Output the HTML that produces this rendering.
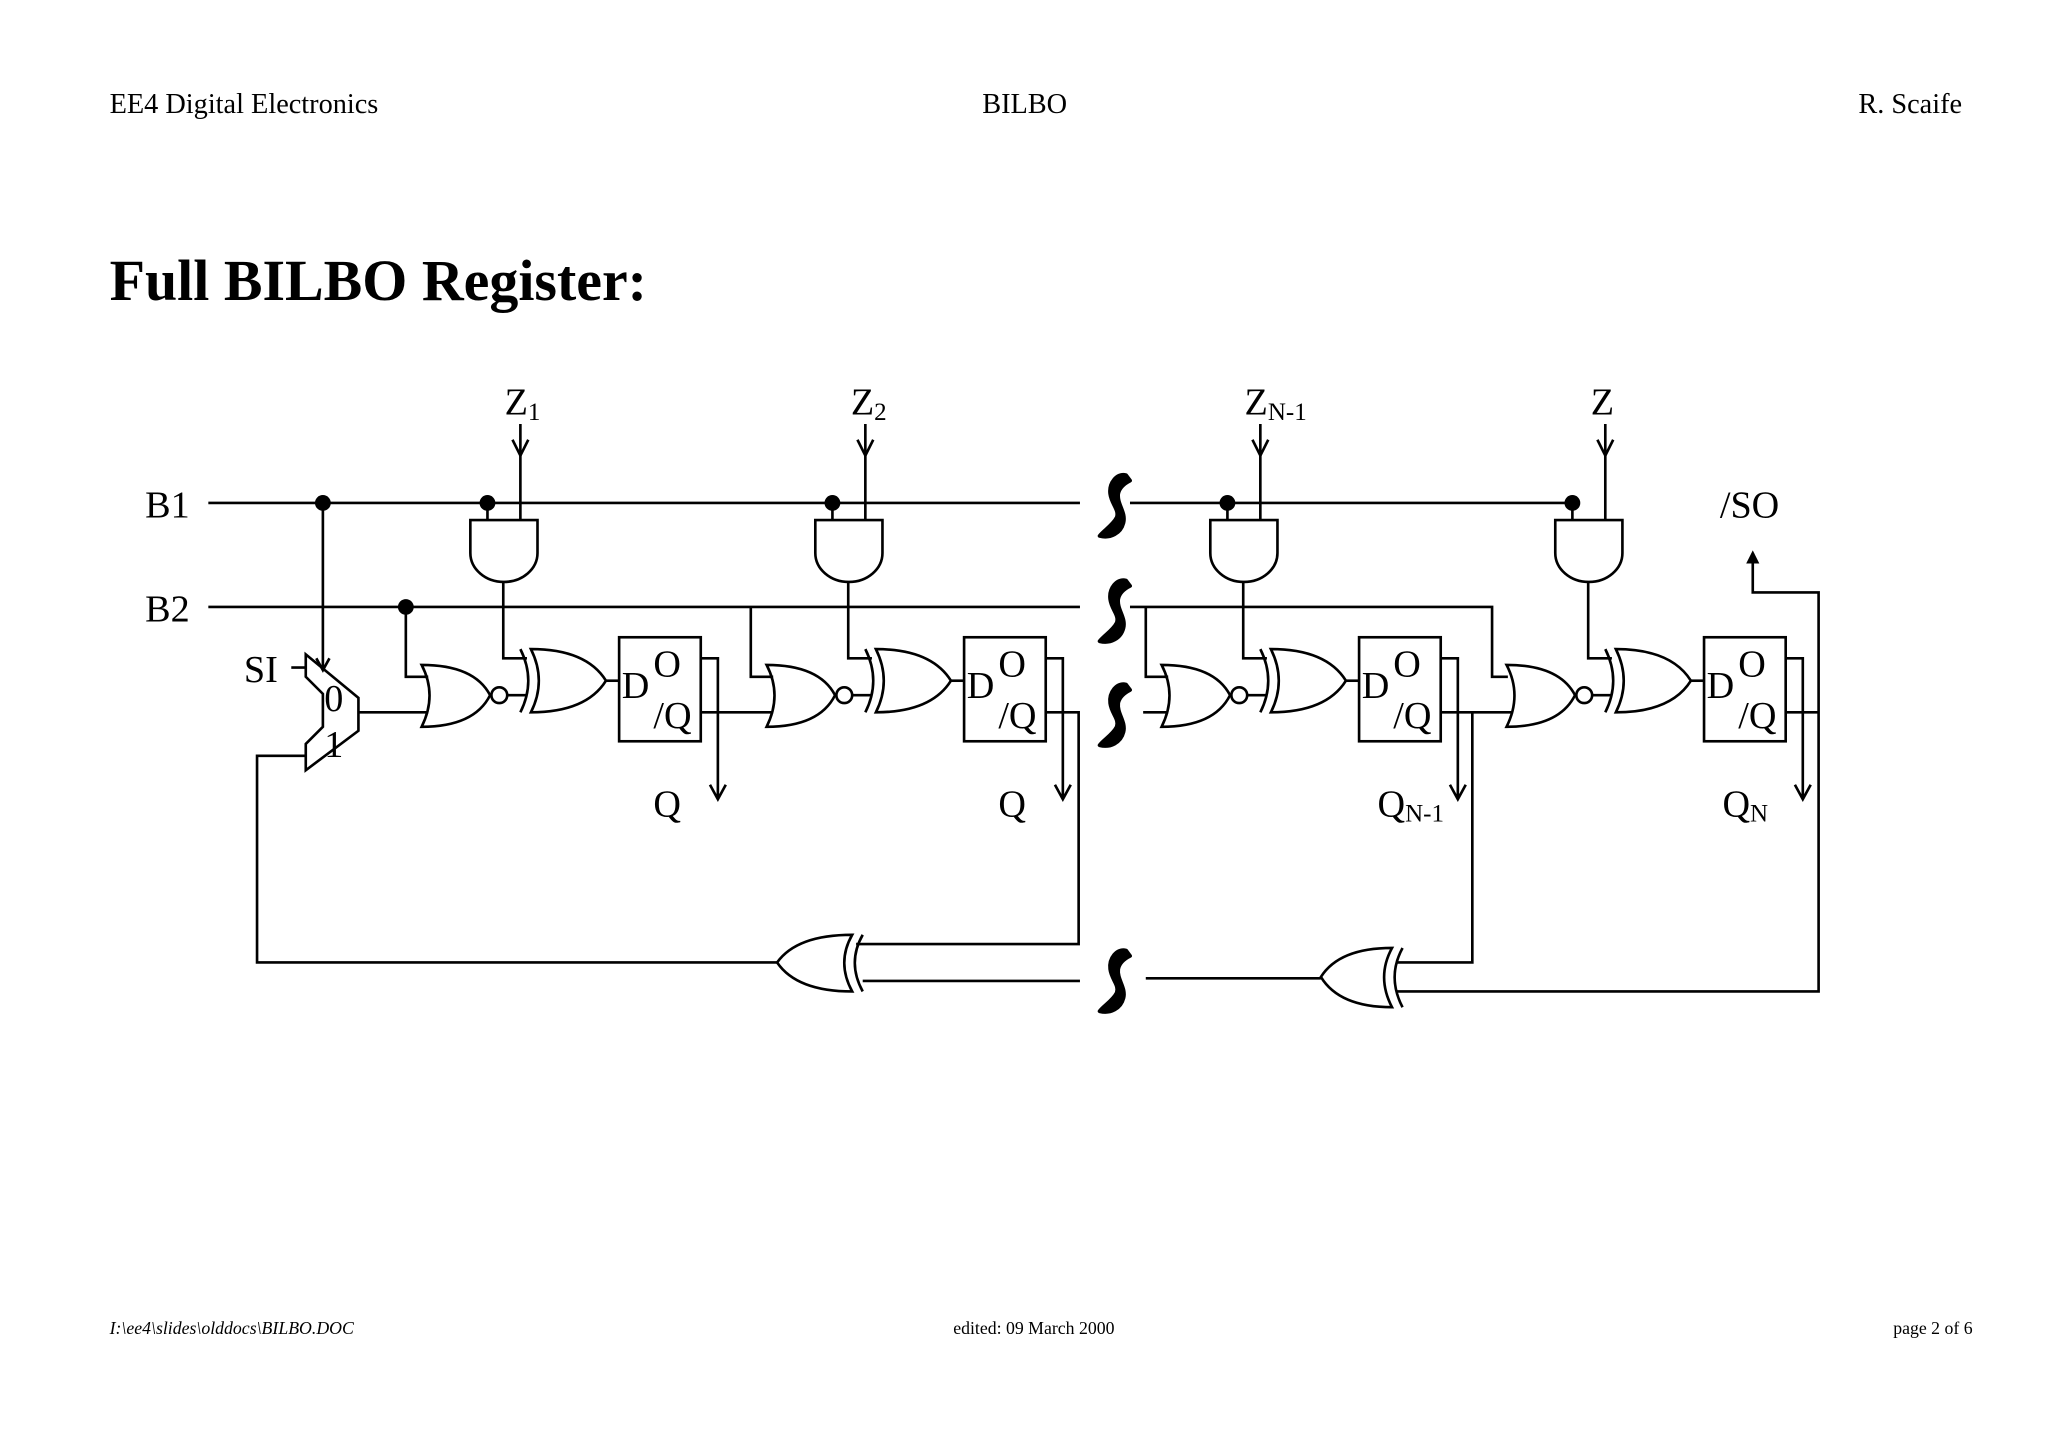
<!DOCTYPE html>
<html><head><meta charset="utf-8"><style>
html,body{margin:0;padding:0;background:#fff;}
svg{display:block;}
text{font-family:"Liberation Serif",serif;fill:#000;}
</style></head><body>
<svg width="2048" height="1447" viewBox="0 0 1555 1099" xmlns="http://www.w3.org/2000/svg">
<defs>
<g id="brk"><path d="M17 -22 C10 -24 4 -16 5 -8 C6 0 12 4 10 10 C7 16 0 20 -3 24 C5 26 13 22 15 14 C17 6 10 0 11 -8 C12 -13 16 -16 20 -18 Z" fill="#000" stroke="#000" stroke-width="3" stroke-linejoin="round"/></g>
</defs>
<text x="83" y="86" font-size="21.5">EE4 Digital Electronics</text>
<text x="778" y="86" font-size="21.5" text-anchor="middle">BILBO</text>
<text x="1490" y="86" font-size="21.5" text-anchor="end">R. Scaife</text>
<text x="83" y="228" font-size="44" font-weight="bold">Full BILBO Register:</text>
<text x="83" y="1013" font-size="13.5" font-style="italic">I:\ee4\slides\olddocs\BILBO.DOC</text>
<text x="785" y="1013" font-size="13.5" text-anchor="middle">edited: 09 March 2000</text>
<text x="1498" y="1013" font-size="13.5" text-anchor="end">page 2 of  6</text>

<g stroke="#000" stroke-width="2" fill="none">
<path d="M158 382 H820 M858 382 H1194"/>
<path d="M158 461 H820 M858 461 H1133 V514 H1145"/>
<path d="M395 322 V395 M657 322 V395 M957 322 V395 M1219 322 V395"/>
<path d="M389 334 L395 346 L401 334 M651 334 L657 346 L663 334 M951 334 L957 346 L963 334 M1213 334 L1219 346 L1225 334"/>
<path d="M370 382 V395 M632 382 V395 M932 382 V395 M1194 382 V395"/>
<path d="M357 395 H408 V420 A25.5 22 0 0 1 357 420 Z"/>
<path d="M619 395 H670 V420 A25.5 22 0 0 1 619 420 Z"/>
<path d="M919 395 H970 V420 A25.5 22 0 0 1 919 420 Z"/>
<path d="M1181 395 H1232 V420 A25.5 22 0 0 1 1181 420 Z"/>
<path d="M382 442 V500 H400 M644 442 V500 H662 M944 442 V500 H962 M1206 442 V500 H1224"/>
<path d="M245 382 V509 M240 500 L245 509 L250 500"/>
<path d="M308 461 V514 H325 M570 461 V514 H587 M870 461 V514 H887"/>
<path d="M232 497 L272 530 V555 L232 585 V565 L245 552 V527 L232 514 Z"/>
<path d="M221 507 H232"/>
<path d="M272 541 H325"/>
<path d="M232 574 H195 V731 H590"/>
<g id="st1">
<path d="M320 505 Q332 528 320 552 Q360 552 372 528 Q360 505 320 505 Z"/>
<circle cx="379" cy="528" r="6"/>
<path d="M385 528 H400"/>
<path d="M395 493 Q407 517 395 541"/>
<path d="M403 493 Q415 517 403 541 Q445 541 460 517 Q445 493 403 493 Z"/>
<path d="M460 517 H470"/>
<rect x="470" y="484" width="62" height="79"/>
<path d="M532 500 H545 V607 M539 596 L545 607 L551 596"/>
</g>
<use href="#st1" x="262"/>
<use href="#st1" x="562"/>
<use href="#st1" x="824"/>
<path d="M532 541 H587 M794 541 H819 V717 H650"/>
<path d="M868 541 H887"/>
<path d="M1094 541 H1149 M1118 541 V731 H1060"/>
<path d="M1356 541 H1381 V753 H1060 M1381 541 V450 H1331 V420"/>
<path d="M655 710 Q643 731 655 753 M647 710 Q635 731 647 753 Q605 753 590 731 Q605 710 647 710 Z"/>
<path d="M655 745 H820 M870 743 H1003"/>
<path d="M1065 720 Q1053 742 1065 765 M1057 720 Q1045 742 1057 765 Q1017 765 1003 742 Q1017 720 1057 720 Z"/>
</g>
<path d="M1326 428 L1331 418 L1336 428 Z" fill="#000"/>
<g fill="#000">
<circle cx="245" cy="382" r="6"/><circle cx="370" cy="382" r="6"/><circle cx="632" cy="382" r="6"/>
<circle cx="932" cy="382" r="6"/><circle cx="1194" cy="382" r="6"/><circle cx="308" cy="461" r="6"/>
</g>
<use href="#brk" x="838" y="383"/>
<use href="#brk" x="838" y="463"/>
<use href="#brk" x="838" y="542"/>
<use href="#brk" x="838" y="744"/>
<g font-size="29">
<text x="110" y="393">B1</text>
<text x="110" y="472">B2</text>
<text x="185" y="518">SI</text>
<text x="1306" y="393">/SO</text>
<text x="383" y="315">Z<tspan font-size="19" dy="4">1</tspan></text>
<text x="646" y="315">Z<tspan font-size="19" dy="4">2</tspan></text>
<text x="945" y="315">Z<tspan font-size="19" dy="4">N-1</tspan></text>
<text x="1208" y="315">Z</text>
<text x="496" y="620">Q</text>
<text x="758" y="620">Q</text>
<text x="1046" y="620">Q<tspan font-size="19" dy="4">N-1</tspan></text>
<text x="1308" y="620">Q<tspan font-size="19" dy="4">N</tspan></text>
<text x="246" y="540">0</text>
<text x="246" y="575">1</text>
</g>
<g font-size="29" id="dq">
<text x="472" y="530">D</text><text x="496" y="514">O</text><text x="496" y="553">/Q</text>
</g>
<use href="#dq" x="262"/><use href="#dq" x="562"/><use href="#dq" x="824"/>
</svg>
</body></html>
